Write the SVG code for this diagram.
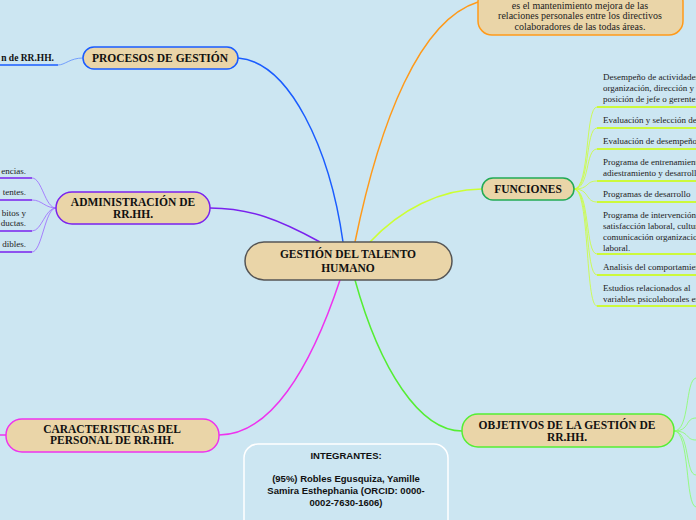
<svg xmlns="http://www.w3.org/2000/svg" width="696" height="520" viewBox="0 0 696 520">
<style>
.n{fill:#ead5a8;stroke-width:1.5}
.t{font-family:"Liberation Serif",serif;font-weight:bold;font-size:11.5px;fill:#111;text-anchor:middle}
.l{font-family:"Liberation Serif",serif;font-size:9px;fill:#222}
.c{fill:none;stroke-width:1.5}
.s{fill:none;stroke-width:0.8}
</style>
<rect width="696" height="520" fill="#cce6f2"/>
<g id="connectors">
<path class="c" stroke="#1a5cff" d="M343,242 C330,150 290,62 238,58"/>
<path class="c" stroke="#7a22ee" d="M320,242 C280,220 250,208 210,208"/>
<path class="c" stroke="#ff9a1a" d="M355,242 C380,120 420,20 478,2"/>
<path class="c" stroke="#ccff33" d="M370,242 C400,210 440,189 482,189"/>
<path class="c" stroke="#ee33ee" d="M340,280 C310,370 270,435 219,435"/>
<path class="c" stroke="#55ee33" d="M355,280 C380,370 420,431 462,431"/>
<path class="s" stroke="#5a8cff" d="M83,58 C70,58 65,65 58,65"/>
<path class="c" stroke="#1a5cff" d="M0,65 H58"/>
<g stroke="#9a66ff" class="s">
<path d="M56,208 C45,208 42,178 32,178"/><path d="M56,208 C45,208 42,200 32,200"/><path d="M56,208 C45,208 42,231 32,231"/><path d="M56,208 C45,208 42,252 32,252"/>
</g>
<g stroke="#7a22ee" class="c"><path d="M0,178H32M0,200H32M0,231H32M0,252H32"/></g>
<g stroke="#ccff33" class="s">
<path d="M574,189 C590,189 585,107 597,107"/><path d="M574,189 C590,189 585,128 597,128"/><path d="M574,189 C590,189 585,149 597,149"/><path d="M574,189 C590,189 585,181 597,181"/><path d="M574,189 C590,189 585,202 597,202"/><path d="M574,189 C590,189 585,254 597,254"/><path d="M574,189 C590,189 585,275 597,275"/><path d="M574,189 C590,189 585,306 597,306"/>
</g>
<g stroke="#ccff00" class="c"><path d="M597,107H696M597,128H696M597,149H696M597,181H696M597,202H696M597,254H696M597,275H696M597,306H696"/></g>
<g stroke="#88ff66" class="s">
<path d="M674,431 C690,431 685,380 696,378"/><path d="M674,431 C690,431 685,418 696,418"/><path d="M674,431 C690,431 685,440 696,440"/><path d="M674,431 C690,431 685,475 696,475"/><path d="M674,431 C690,431 685,505 696,507"/>
</g>
<path class="c" stroke="#ee33ee" d="M6,435 H0"/>
</g>
<g id="center"><rect class="n" stroke="#555" x="245" y="242" width="207" height="38" rx="19"/><text class="t" x="348" y="258">GESTIÓN DEL TALENTO</text><text class="t" x="348" y="272">HUMANO</text></g>
<g id="procesos"><rect class="n" stroke="#1a5cff" x="83" y="47" width="155" height="22" rx="11"/><text class="t" x="160" y="62">PROCESOS DE GESTIÓN</text></g>
<g id="admin"><rect class="n" stroke="#7a22ee" x="56" y="192" width="154" height="32" rx="16"/><text class="t" x="133" y="206">ADMINISTRACIÓN DE</text><text class="t" x="133" y="218">RR.HH.</text></g>
<g id="caract"><rect class="n" stroke="#ee33ee" x="6" y="419" width="213" height="33" rx="16"/><text class="t" x="112" y="433">CARACTERISTICAS DEL</text><text class="t" x="112" y="444">PERSONAL DE RR.HH.</text></g>
<g id="objetivos"><rect class="n" stroke="#55ee33" x="462" y="414" width="212" height="33" rx="16"/><text class="t" x="567" y="429">OBJETIVOS DE LA GESTIÓN DE</text><text class="t" x="567" y="441">RR.HH.</text></g>
<g id="funciones"><rect class="n" stroke="#22aa55" x="482" y="178" width="92" height="22" rx="11"/><text class="t" x="528" y="193">FUNCIONES</text></g>
<g id="mantenimiento"><rect class="n" stroke="#ff9a1a" x="478" y="-12" width="205" height="47" rx="14"/>
<text class="l" style="font-size:10px" text-anchor="middle" x="580" y="9">es el mantenimiento mejora de las</text>
<text class="l" style="font-size:10px" text-anchor="middle" x="580" y="19">relaciones personales entre los directivos</text>
<text class="l" style="font-size:10px" text-anchor="middle" x="580" y="30">colaboradores de las todas áreas.</text></g>
<g id="procesos-leaf"><text class="t" style="font-size:9.5px;text-anchor:end" x="54" y="61">n de RR.HH.</text></g>
<g id="admin-leaves" class="l" text-anchor="end">
<text x="26" y="174">encias.</text><text x="26" y="195">tentes.</text><text x="26" y="216">bitos y</text><text x="26" y="226">ductas.</text><text x="26" y="247">dibles.</text>
</g>
<g id="funciones-leaves" class="l">
<text x="603" y="80">Desempeño de actividades de</text><text x="603" y="91">organización, dirección y</text><text x="603" y="102">posición de jefe o gerente</text>
<text x="603" y="123">Evaluación y selección de</text>
<text x="603" y="144">Evaluación de desempeño</text>
<text x="603" y="165">Programa de entrenamiento</text><text x="603" y="176">adiestramiento y desarrollo</text>
<text x="603" y="197">Programas de desarrollo</text>
<text x="603" y="218">Programa de intervención</text><text x="603" y="229">satisfacción laboral, cultura</text><text x="603" y="240">comunicación organizacional</text><text x="603" y="251">laboral.</text>
<text x="603" y="270">Analisis del comportamiento</text>
<text x="603" y="291">Estudios relacionados al</text><text x="603" y="302">variables psicolaborales en</text>
</g>
<g id="integrantes"><rect x="244" y="444" width="204" height="90" rx="14" fill="none" stroke="#fff" stroke-width="1.5"/>
<g font-family="Liberation Sans,Arial,sans-serif" font-weight="bold" font-size="9.5" fill="#111" text-anchor="middle">
<text x="346" y="459">INTEGRANTES:</text><text x="346" y="482">(95%) Robles Egusquiza, Yamille</text><text x="346" y="494">Samira Esthephania (ORCID: 0000-</text><text x="346" y="506">0002-7630-1606)</text></g></g>
</svg>
